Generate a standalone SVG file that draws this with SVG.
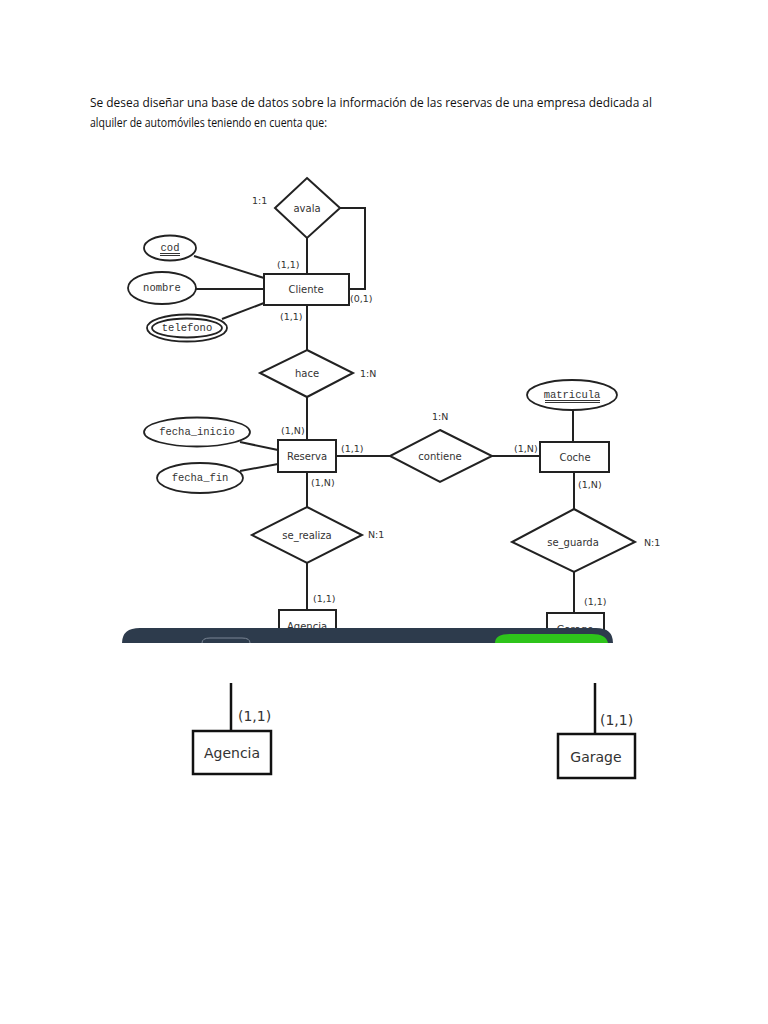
<svg xmlns="http://www.w3.org/2000/svg" width="768" height="1024" viewBox="0 0 768 1024">
<style>
.ln{stroke:#222;stroke-width:2;fill:none}
.ent{fill:#fff;stroke:#222;stroke-width:2}
.ell{fill:#fff;stroke:#222;stroke-width:1.8}
.t{font-family:"DejaVu Sans",Verdana,sans-serif;font-size:10px;fill:#333;text-anchor:middle}
.c{font-family:"DejaVu Sans",Verdana,sans-serif;font-size:9.5px;fill:#333}
.m{font-family:"Liberation Mono","DejaVu Sans Mono",monospace;font-size:10.5px;fill:#333;text-anchor:middle}
.hd{font-family:"Open Sans","Liberation Sans",Arial,sans-serif;font-size:13px;fill:#111}
.big{font-family:"DejaVu Sans",Verdana,sans-serif;font-size:14px;fill:#333}
.lnb{stroke:#111;stroke-width:2.5;fill:none}
.entb{fill:#fff;stroke:#111;stroke-width:2.5}
.ul{stroke:#333;stroke-width:1}
</style>
<rect width="768" height="1024" fill="#fff"/>
<text class="hd" x="90" y="107" textLength="562" lengthAdjust="spacingAndGlyphs">Se desea diseñar una base de datos sobre la información de las reservas de una empresa dedicada al</text>
<text class="hd" x="90" y="127" textLength="237" lengthAdjust="spacingAndGlyphs">alquiler de automóviles teniendo en cuenta que:</text>

<g id="connectors">
<path class="ln" d="M307,238 V274"/>
<path class="ln" d="M340,208 H365 V289 H349"/>
<path class="ln" d="M194,256 L264,278"/>
<path class="ln" d="M196,289 H264"/>
<path class="ln" d="M222,319 L264,303"/>
<path class="ln" d="M307,305 V350"/>
<path class="ln" d="M307,397 V440"/>
<path class="ln" d="M240,442 L278,450"/>
<path class="ln" d="M240,471 L278,464"/>
<path class="ln" d="M336,456 H390"/>
<path class="ln" d="M492,456 H540"/>
<path class="ln" d="M573,410 V442"/>
<path class="ln" d="M307,472 V507"/>
<path class="ln" d="M307,563 V610"/>
<path class="ln" d="M574,472 V509"/>
<path class="ln" d="M574,572 V613"/>
</g>

<g id="avala">
<polygon class="ent" points="307,178 340,208 307,238 275,208"/>
<text class="t" x="307" y="212">avala</text>
<text class="c" x="252" y="204">1:1</text>
</g>
<g id="cliente">
<rect class="ent" x="264" y="274" width="85" height="31"/>
<text class="t" x="306" y="293">Cliente</text>
<text class="c" x="277" y="268">(1,1)</text>
<text class="c" x="350" y="302">(0,1)</text>
<text class="c" x="280" y="320">(1,1)</text>
</g>
<g id="cod">
<ellipse class="ell" cx="170" cy="248" rx="26" ry="12.5"/>
<text class="m" x="170" y="251">cod</text>
<path class="ul" d="M160,253.5 H180 M160,255.5 H180"/>
</g>
<g id="nombre">
<ellipse class="ell" cx="162" cy="288" rx="34" ry="16"/>
<text class="m" x="162" y="291">nombre</text>
</g>
<g id="telefono">
<ellipse class="ell" cx="187" cy="328" rx="40" ry="13.5"/>
<ellipse class="ell" cx="187" cy="328" rx="35" ry="9.5"/>
<text class="m" x="187" y="331">telefono</text>
</g>
<g id="hace">
<polygon class="ent" points="307,350 353,373 307,397 260,373"/>
<text class="t" x="307" y="377">hace</text>
<text class="c" x="360" y="377">1:N</text>
</g>
<g id="reserva">
<rect class="ent" x="278" y="440" width="58" height="32"/>
<text class="t" x="307" y="460">Reserva</text>
<text class="c" x="281" y="434">(1,N)</text>
<text class="c" x="341" y="452">(1,1)</text>
<text class="c" x="311" y="486">(1,N)</text>
</g>
<g id="fecha_inicio">
<ellipse class="ell" cx="197" cy="432" rx="53" ry="14.5"/>
<text class="m" x="197" y="435">fecha_inicio</text>
</g>
<g id="fecha_fin">
<ellipse class="ell" cx="200" cy="478" rx="43" ry="15"/>
<text class="m" x="200" y="481">fecha_fin</text>
</g>
<g id="contiene">
<polygon class="ent" points="440,430 492,456 440,482 390,456"/>
<text class="t" x="440" y="460">contiene</text>
<text class="c" x="432" y="420">1:N</text>
</g>
<g id="coche">
<rect class="ent" x="540" y="442" width="69" height="30"/>
<text class="t" x="575" y="461">Coche</text>
<text class="c" x="514" y="452">(1,N)</text>
<text class="c" x="578" y="488">(1,N)</text>
</g>
<g id="matricula">
<ellipse class="ell" cx="572" cy="395" rx="45" ry="15"/>
<text class="m" x="572" y="398">matricula</text>
<path class="ul" d="M545,400.5 H600 M545,402.5 H600"/>
</g>
<g id="se_realiza">
<polygon class="ent" points="307,507 362,535 307,563 252,535"/>
<text class="t" x="307" y="539">se_realiza</text>
<text class="c" x="368" y="538">N:1</text>
</g>
<g id="se_guarda">
<polygon class="ent" points="574,509 635,542 574,572 512,542"/>
<text class="t" x="573" y="546">se_guarda</text>
<text class="c" x="644" y="546">N:1</text>
</g>
<g id="agencia-top">
<rect class="ent" x="279" y="610" width="57" height="30"/>
<text class="t" x="307" y="630">Agencia</text>
<text class="c" x="313" y="602">(1,1)</text>
</g>
<g id="garage-top">
<rect class="ent" x="547" y="613" width="57" height="30"/>
<text class="t" x="575" y="633">Garage</text>
<text class="c" x="584" y="605">(1,1)</text>
</g>

<g id="overlay">
<path d="M122,643 Q122,628 140,628 H596 Q613,628 613,643 Z" fill="#2d3b4c"/>
<path d="M202,643 Q202,638 210,638 H242 Q250,638 250,643" fill="none" stroke="#7a8594" stroke-width="1"/>
<path d="M495,643 Q495,634 510,634 H592 Q606,634 608,643 Z" fill="#2ec41b"/>
</g>
<rect x="0" y="643" width="768" height="381" fill="#fff"/>

<g id="connectors-bottom">
<path class="lnb" d="M231,683 V731"/>
<path class="lnb" d="M595,683 V734"/>
</g>
<g id="agencia">
<rect class="entb" x="193" y="731" width="78" height="43"/>
<text class="big" x="232" y="758" text-anchor="middle">Agencia</text>
<text class="big" x="238" y="721">(1,1)</text>
</g>
<g id="garage">
<rect class="entb" x="558" y="734" width="77" height="44"/>
<text class="big" x="596" y="762" text-anchor="middle">Garage</text>
<text class="big" x="600" y="725">(1,1)</text>
</g>
</svg>
